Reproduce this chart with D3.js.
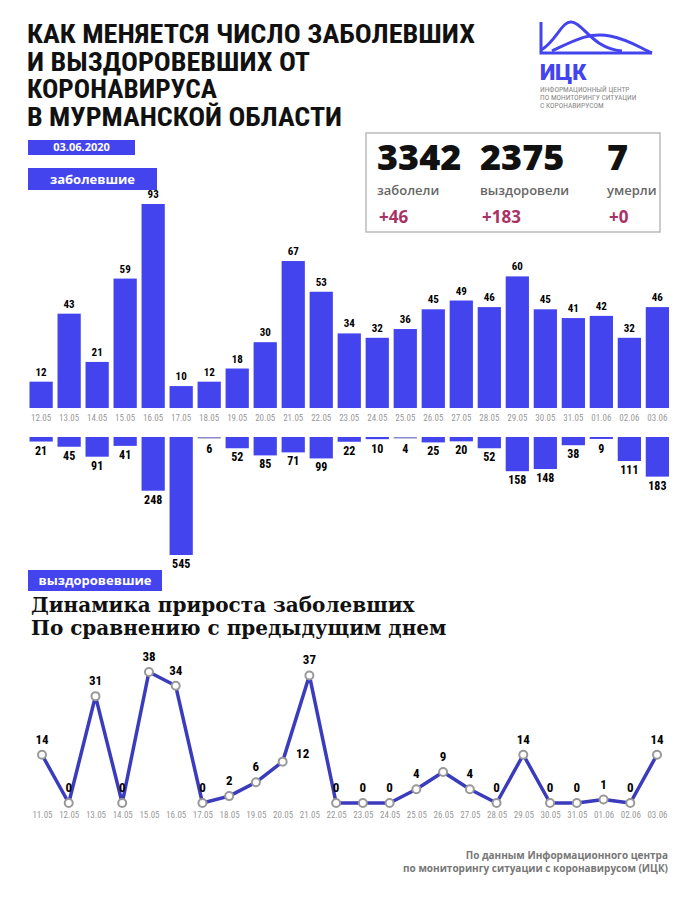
<!DOCTYPE html>
<html><head><meta charset="utf-8">
<script src="https://cdn.jsdelivr.net/npm/d3@7"></script>
<style>body{margin:0;background:#fff}</style></head>
<body><svg id="c" width="698" height="900"></svg>
<script>
const dates = ["12.05","13.05","14.05","15.05","16.05","17.05","18.05","19.05","20.05","21.05","22.05","23.05","24.05","25.05","26.05","27.05","28.05","29.05","30.05","31.05","01.06","02.06","03.06"];
const infected = [12,43,21,59,93,10,12,18,30,67,53,34,32,36,45,49,46,60,45,41,42,32,46];
const recovered = [21,45,91,41,248,545,6,52,85,71,99,22,10,4,25,20,52,158,148,38,9,111,183];
const lineDates = ["11.05","12.05","13.05","14.05","15.05","16.05","17.05","18.05","19.05","20.05","21.05","22.05","23.05","24.05","25.05","26.05","27.05","28.05","29.05","30.05","31.05","01.06","02.06","03.06"];
const growth = [14,0,31,0,38,34,0,2,6,12,37,0,0,0,4,9,4,0,14,0,0,1,0,14];
const titleLines = ["КАК МЕНЯЕТСЯ ЧИСЛО ЗАБОЛЕВШИХ","И ВЫЗДОРОВЕВШИХ ОТ","КОРОНАВИРУСА","В МУРМАНСКОЙ ОБЛАСТИ"];
const totals = [["3342","заболели","+46"],["2375","выздоровели","+183"],["7","умерли","+0"]];

const svg = d3.select("#c");
const BLUE="#4444ee", cond="'Liberation Sans Narrow','Roboto Condensed','Arial Narrow',sans-serif";

svg.selectAll("text.t").data(titleLines).join("text").attr("x",27).attr("y",(d,i)=>43+i*27.7)
 .attr("font-family",cond).attr("font-weight","bold").attr("font-size",26).attr("textLength",(d,i)=>[448,283,190,315][i]).attr("lengthAdjust","spacingAndGlyphs").attr("fill","#111").text(d=>d);

const lg=svg.append("g").attr("fill","none").attr("stroke",BLUE).attr("stroke-width",3);
lg.append("path").attr("d","M541,22 L541,53 L652,53");
lg.append("path").attr("d","M541,50 C556,42 562,20 572,22 C584,24 592,48 622,51");
lg.append("path").attr("d","M552,51 C575,40 590,32 610,36 C630,40 640,48 652,53");
svg.append("text").attr("x",540).attr("y",80).attr("font-family","Roboto,sans-serif").attr("font-weight","900").attr("font-size",22).attr("fill",BLUE).text("ИЦК");
["ИНФОРМАЦИОННЫЙ ЦЕНТР","ПО МОНИТОРИНГУ СИТУАЦИИ","С КОРОНАВИРУСОМ"].forEach((t,i)=>svg.append("text").attr("x",540).attr("y",92+i*8).attr("font-family",cond).attr("font-size",7.5).attr("fill","#888").text(t));

function box(x,y,w,h,t,fs){svg.append("rect").attr("x",x).attr("y",y).attr("width",w).attr("height",h).attr("fill",BLUE);
 svg.append("text").attr("x",x+w/2).attr("y",y+h/2+fs*0.36).attr("text-anchor","middle").attr("font-family","'Open Sans',sans-serif").attr("font-weight","bold").attr("font-size",fs).attr("fill","#fff").text(t);}
box(28,140,107,15,"03.06.2020",11);
box(28,168,129,22,"заболевшие",13);
box(28,570,134,21,"выздоровевшие",13);

svg.append("rect").attr("x",366).attr("y",133).attr("width",294).attr("height",99).attr("fill","#fff").attr("stroke","#bbb").attr("stroke-width",1.5);
const sx=[377,480,607];
totals.forEach((d,i)=>{
 svg.append("text").attr("x",sx[i]).attr("y",170).attr("font-family","'Open Sans',sans-serif").attr("font-weight","800").attr("font-size",36).attr("fill","#111").text(d[0]);
 svg.append("text").attr("x",sx[i]).attr("y",195).attr("font-family","'Open Sans',sans-serif").attr("font-weight","600").attr("font-size",13).attr("fill","#666").text(d[1]);
 svg.append("text").attr("x",sx[i]+2).attr("y",223).attr("font-family","'Open Sans',sans-serif").attr("font-weight","bold").attr("font-size",17).attr("fill","#a83263").text(d[2]);
});

const x=d3.scaleBand().domain(dates).range([29.5,669]).paddingInner(0.17);
const yP=d3.scaleLinear().domain([0,93]).range([408,204]);
const yN=d3.scaleLinear().domain([0,545]).range([437,555]);
svg.append("g").selectAll("rect").data(infected).join("rect").attr("x",(d,i)=>x(dates[i])).attr("width",x.bandwidth())
 .attr("y",d=>yP(d)).attr("height",d=>yP(0)-yP(d)).attr("fill",BLUE);
svg.append("g").selectAll("text").data(infected).join("text").attr("x",(d,i)=>x(dates[i])+x.bandwidth()/2).attr("y",d=>yP(d)-6)
 .attr("text-anchor","middle").attr("font-family",cond).attr("font-weight","bold").attr("font-size",11).text(d=>d);
const xa=svg.append("g").attr("transform","translate(0,409)").call(d3.axisBottom(x).tickSize(0).tickPadding(6));
xa.select(".domain").remove();
xa.selectAll("text").attr("font-family",cond).attr("font-size",9).attr("fill","#999");
svg.append("g").selectAll("rect").data(recovered).join("rect").attr("x",(d,i)=>x(dates[i])).attr("width",x.bandwidth())
 .attr("y",yN(0)).attr("height",d=>Math.max(1.5,yN(d)-yN(0))).attr("fill",d=>d<8?"#8888cc":BLUE);
svg.append("g").selectAll("text").data(recovered).join("text").attr("x",(d,i)=>x(dates[i])+x.bandwidth()/2).attr("y",d=>Math.max(yN(d),yN(0)+3)+13)
 .attr("text-anchor","middle").attr("font-family",cond).attr("font-weight","bold").attr("font-size",12).text(d=>d);

["Динамика прироста заболевших","По сравнению с предыдущим днем"].forEach((t,i)=>svg.append("text").attr("x",31).attr("y",612+i*23)
 .attr("font-family","'DejaVu Serif',serif").attr("font-weight","bold").attr("font-size",20).attr("fill","#111").text(t));

const xl=d3.scalePoint().domain(lineDates).range([42,657]);
const yl=d3.scaleLinear().domain([0,38]).range([803,672]);
svg.append("path").datum(growth).attr("fill","none").attr("stroke","#3b3bbd").attr("stroke-width",3.5).attr("stroke-linejoin","round")
 .attr("d",d3.line().x((d,i)=>xl(lineDates[i])).y(d=>yl(d)));
svg.append("g").selectAll("circle").data(growth).join("circle").attr("cx",(d,i)=>xl(lineDates[i])).attr("cy",d=>yl(d)).attr("r",4)
 .attr("fill","#fff").attr("stroke","#999").attr("stroke-width",2);
svg.append("g").selectAll("text").data(growth).join("text").attr("x",(d,i)=>xl(lineDates[i])+(d===12?20:0)).attr("y",d=>d===12?yl(d)-4:yl(d)-11)
 .attr("text-anchor","middle").attr("font-family",cond).attr("font-weight","bold").attr("font-size",13).text(d=>d);
const la=svg.append("g").attr("transform","translate(0,806)").call(d3.axisBottom(xl).tickSize(0).tickPadding(6));
la.select(".domain").remove();
la.selectAll("text").attr("font-family",cond).attr("font-size",9).attr("fill","#999");

["По данным Информационного центра","по мониторингу ситуации с коронавирусом (ИЦК)"].forEach((t,i)=>svg.append("text").attr("x",668).attr("y",859+i*13)
 .attr("text-anchor","end").attr("font-family","'Open Sans',sans-serif").attr("font-weight","bold").attr("font-size",10).attr("fill","#777").text(t));
</script></body></html>
